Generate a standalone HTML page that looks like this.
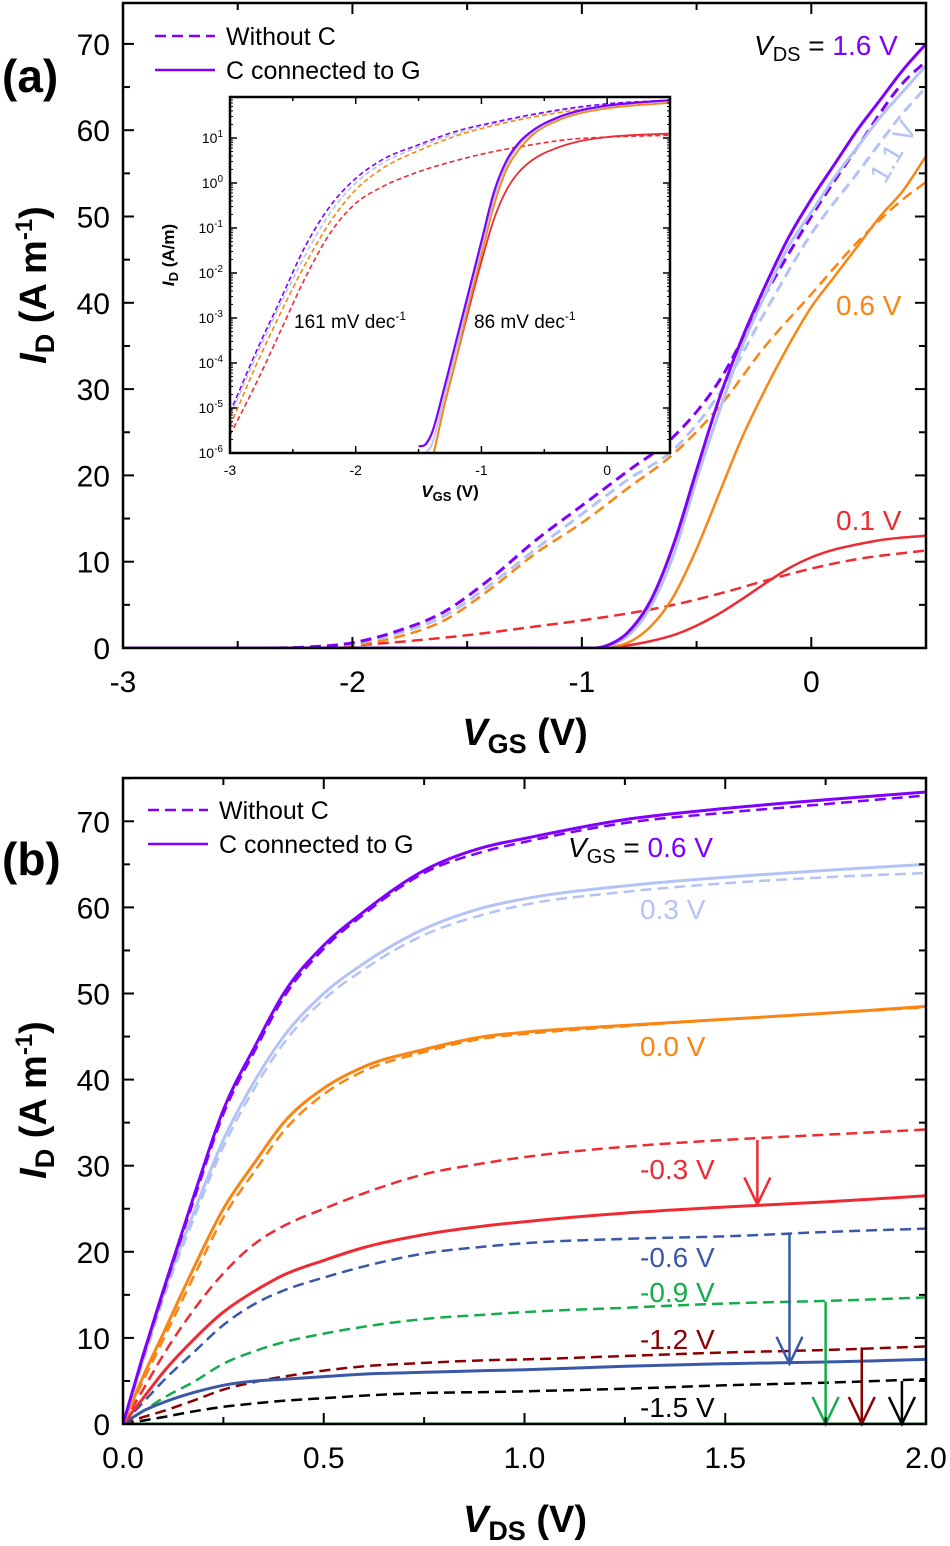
<!DOCTYPE html>
<html><head><meta charset="utf-8"><style>
html,body{margin:0;padding:0;background:#fff;}
svg{display:block;font-family:"Liberation Sans",Arial,sans-serif;}
</style></head><body>
<svg id="fig" width="950" height="1546" viewBox="0 0 950 1546" xmlns="http://www.w3.org/2000/svg">
<g id="pa"></g>
<g id="pi"></g>
<g id="pb"></g>
</svg>
<script>
// ---------- Panel (a) data: ID vs VGS (linear) ----------
const aX = [-3,-2.4,-2.2,-2.0,-1.8,-1.6,-1.4,-1.2,-1.0,-0.8,-0.6,-0.4,-0.2,0,0.2,0.4,0.5];
const aDash16 = [0,0,0.1,0.6,2,4.2,8,12.5,16.5,20.5,24.5,31,41,50,58,65.5,68];
const aDash11 = [0,0,0.1,0.5,1.7,3.7,7.3,11.5,15.5,19.5,23,29.5,39,48,55,62,65];
const aDash06 = [0,0,0.05,0.3,1.3,3.2,6.8,11,14.5,18.5,22.5,28,35,41,47,52,54];
const aDash01 = [0,0,0,0.3,0.7,1.2,1.8,2.5,3.2,4,5,6.3,7.8,9.2,10.3,11,11.3];
const aSX = [-3,-1.0,-0.9,-0.8,-0.7,-0.6,-0.5,-0.4,-0.3,-0.2,-0.1,0,0.1,0.2,0.3,0.4,0.5];
const aSol16 = [0,0,0.2,1.8,5.5,12,20.6,29,36,42,47.5,52,56,60,63.5,67,70];
const aSol11 = [0,0,0.15,1.4,4.8,10.8,19.5,27.5,35,41,46.5,50.5,54.5,58,61.5,64.5,67.5];
const aSol06 = [0,0,0.05,0.6,2.5,6,11.5,18,24.5,30,35,39.5,43,46.5,50,53,57];
const aSol01 = [0,0,0,0.3,0.8,1.5,2.6,4,5.7,7.5,9.2,10.5,11.4,12,12.5,12.8,13];
const aXTicks = [-3,-2,-1,0];
const aYTicks = [0,10,20,30,40,50,60,70];

// ---------- Inset data: log10(ID) vs VGS ----------
const iX = [-3,-2.8,-2.6,-2.4,-2.2,-2.0,-1.8,-1.5,-1.2,-0.9,-0.6,-0.3,0,0.5];
const iDash16 = [-5.1,-3.8,-2.6,-1.4,-0.5,0.1,0.5,0.85,1.15,1.35,1.52,1.66,1.76,1.84];
const iDash11 = [-5.2,-3.9,-2.7,-1.6,-0.65,0,0.42,0.8,1.1,1.32,1.5,1.64,1.74,1.82];
const iDash06 = [-5.4,-4.1,-2.9,-1.8,-0.85,-0.15,0.3,0.72,1.05,1.28,1.46,1.6,1.7,1.78];
const iDash01 = [-5.6,-4.5,-3.3,-2.1,-1.1,-0.45,-0.1,0.25,0.5,0.7,0.85,0.97,1.02,1.06];
const iSX = [-1.5,-1.45,-1.4,-1.3,-1.2,-1.1,-1.0,-0.9,-0.8,-0.7,-0.6,-0.4,-0.2,0,0.5];
const iSol16 = [-5.85,-5.82,-5.6,-4.6,-3.5,-2.4,-1.3,-0.2,0.5,0.9,1.15,1.45,1.62,1.72,1.84];
const iSol11 = [-6.1,-6.0,-5.85,-4.8,-3.7,-2.55,-1.45,-0.35,0.4,0.85,1.1,1.42,1.6,1.7,1.83];
const iSol06 = [-6.6,-6.5,-6.2,-5.0,-3.9,-2.7,-1.6,-0.5,0.3,0.75,1.05,1.38,1.56,1.66,1.78];
const iSol01 = [-6.6,-6.5,-6.2,-5.0,-3.9,-2.8,-1.75,-0.8,-0.15,0.25,0.5,0.78,0.94,1.02,1.1];
const iXTicks = [-3,-2,-1,0];
const iYTicks = [-6,-5,-4,-3,-2,-1,0,1];

// ---------- Panel (b) data: ID vs VDS ----------
const bX = [0,0.05,0.1,0.18,0.25,0.33,0.4,0.5,0.6,0.75,0.9,1.0,1.25,1.5,1.75,2.0];
const bSol06 = [0,8,15.5,27,36.5,44,50,55.6,59.5,64.3,67,68,70.2,71.5,72.5,73.4];
const bDash06 = [0,7.8,15.2,26.5,36,43.5,49.5,55.2,59.2,64,66.5,67.6,69.8,71,72,73];
const bSol03 = [0,7.5,15,25,33,40,45,50,53.5,57.5,60,61,62.5,63.5,64.3,65];
const bDash03 = [0,7.2,14.5,24.3,32.2,39.2,44.2,49.3,52.8,56.8,59.2,60.3,61.8,62.8,63.5,64];
const bSol00 = [0,5.5,10.5,18.5,25,30.5,35,39,41.5,43.5,45,45.5,46.3,47,47.7,48.5];
const bDash00 = [0,5,9.8,17.5,24,29.5,34,38.3,41,43.2,44.8,45.3,46.2,47,47.7,48.4];
const bDashM03 = [0,4,8,13.5,17.5,21,23,25,26.8,29,30.3,31,32.2,33,33.6,34.2];
const bSolM03 = [0,3,6,10,13,15.5,17.3,19,20.5,22,23,23.5,24.5,25.2,25.8,26.5];
const bDashM06 = [0,2.5,5,8.5,11.5,14,15.5,17,18.3,19.8,20.6,21,21.5,21.8,22.3,22.7];
const bSolM06 = [0,1.5,2.5,3.7,4.5,5,5.2,5.5,5.8,6,6.2,6.3,6.7,7,7.2,7.5];
const bDashM09 = [0,1.5,3,5,7,8.5,9.5,10.5,11.3,12.2,12.7,13,13.5,14,14.3,14.7];
const bSolM09 = [0,0,0,0,0,0,0,0,0,0,0,0,0,0,0,0];
const bDashM12 = [0,0.8,1.5,2.8,4,4.9,5.5,6.2,6.7,7.1,7.4,7.5,7.9,8.3,8.6,9];
const bDashM15 = [0,0.4,0.8,1.5,2,2.4,2.7,3,3.3,3.6,3.7,3.8,4.1,4.5,4.8,5.2];
const bArrowX = [1.58,1.66,1.75,1.84,1.94];
const bArrowFrom = [33,22,14.2,8.9,5];
const bArrowTo = [25.5,7,0,0,0];
const bXTicks = [0,0.5,1.0,1.5,2.0];
const bYTicks = [0,10,20,30,40,50,60,70];

const C = {p:'#8000ff', l:'#b4c3f5', o:'#fa8512', r:'#ee2b33', b:'#3a58a8', g:'#13ad4b', d:'#8b0000', k:'#000'};
const NS='http://www.w3.org/2000/svg';
function el(parent,tag,attrs){const e=document.createElementNS(NS,tag);for(const k in attrs)e.setAttribute(k,attrs[k]);parent.appendChild(e);return e;}
function smooth(pts){
  const n=pts.length, m=[];
  const d=[];
  for(let i=0;i<n-1;i++){const h=pts[i+1][0]-pts[i][0]; d.push(h>0?(pts[i+1][1]-pts[i][1])/h:0);}
  for(let i=0;i<n;i++){
    if(i===0) m.push(d[0]); else if(i===n-1) m.push(d[n-2]);
    else { const h0=pts[i][0]-pts[i-1][0], h1=pts[i+1][0]-pts[i][0];
      if(d[i-1]*d[i]<=0) m.push(0); else m.push((d[i-1]*h1+d[i]*h0)/(h0+h1)); }
  }
  let s='M'+pts[0][0].toFixed(1)+','+pts[0][1].toFixed(1);
  for(let i=0;i<n-1;i++){
    const h=(pts[i+1][0]-pts[i][0])/3;
    s+=' C'+(pts[i][0]+h).toFixed(1)+','+(pts[i][1]+m[i]*h).toFixed(1)+' '+(pts[i+1][0]-h).toFixed(1)+','+(pts[i+1][1]-m[i+1]*h).toFixed(1)+' '+pts[i+1][0].toFixed(1)+','+pts[i+1][1].toFixed(1);
  }
  return s;
}
function curve(g,xs,ys,sx,sy,color,dash,w,name){
  const pts=xs.map((x,i)=>[sx(x),sy(ys[i])]);
  const p=el(g,'path',{d:smooth(pts),fill:'none',stroke:color,'stroke-width':w,'stroke-dasharray':dash||'none'});
  
  
}
function txt(g,x,y,s,opts,name){
  const t=el(g,'text',Object.assign({x:x,y:y},opts||{}));
  t.innerHTML=s;
  
  
  return t;
}
function frame(g,L,T,R,B,name){
  const r=el(g,'rect',{x:L,y:T,width:R-L,height:B-T,fill:'none',stroke:'#000','stroke-width':2.5});
  
  
}

// ===== Panel (a) =====
(function(){
  const g=document.getElementById('pa');
  const L=123,R=926,T=3,B=648;
  const sx=v=>L+(v+3)*(R-L)/3.5, sy=v=>B-v*8.63;
  const cg=el(g,'g',{'clip-path':'url(#ca)'});
  const cp=el(el(g,'defs',{}),'clipPath',{id:'ca'});el(cp,'rect',{x:L,y:T,width:R-L,height:B-T});
  const D='11,6';
  curve(cg,aX,aDash01,sx,sy,C.r,D,2.5,'curve-a-dash-0.1V');
  curve(cg,aX,aDash06,sx,sy,C.o,D,2.5,'curve-a-dash-0.6V');
  curve(cg,aX,aDash11,sx,sy,C.l,D,3,'curve-a-dash-1.1V');
  curve(cg,aX,aDash16,sx,sy,C.p,D,3,'curve-a-dash-1.6V');
  curve(cg,aSX,aSol01,sx,sy,C.r,null,2.5,'curve-a-solid-0.1V');
  curve(cg,aSX,aSol06,sx,sy,C.o,null,2.5,'curve-a-solid-0.6V');
  curve(cg,aSX,aSol11,sx,sy,C.l,null,3,'curve-a-solid-1.1V');
  curve(cg,aSX,aSol16,sx,sy,C.p,null,3,'curve-a-solid-1.6V');
  frame(g,L,T,R,B,'plot-a-frame');
  for(let v=-3;v<=0.5;v+=0.5){const x=sx(v),len=(Math.abs(v%1)<1e-6)?11:7;
    el(g,'line',{x1:x,y1:B,x2:x,y2:B-len,stroke:'#000','stroke-width':2});
    el(g,'line',{x1:x,y1:T,x2:x,y2:T+len,stroke:'#000','stroke-width':2});}
  for(let v=0;v<=74;v+=5){const y=sy(v),len=(v%10===0)?11:7;
    el(g,'line',{x1:L,y1:y,x2:L+len,y2:y,stroke:'#000','stroke-width':2});
    el(g,'line',{x1:R,y1:y,x2:R-len,y2:y,stroke:'#000','stroke-width':2});}
  aXTicks.forEach(v=>txt(g,sx(v),692,String(v),{'font-size':30,'text-anchor':'middle'},'x-tick-a'));
  aYTicks.forEach(v=>txt(g,110,sy(v)+11,String(v),{'font-size':30,'text-anchor':'end'},'y-tick-a'));
  txt(g,525,745,'<tspan font-style="italic">V</tspan><tspan font-size="27" dy="8">GS</tspan><tspan dy="-8"> (V)</tspan>',{'font-size':38,'font-weight':'bold','text-anchor':'middle'},'x-axis-title-a');
  txt(g,0,0,'<tspan font-style="italic">I</tspan><tspan font-size="27" dy="8">D</tspan><tspan dy="-8"> (A m</tspan><tspan font-size="24" dy="-14">-1</tspan><tspan dy="14">)</tspan>',{'font-size':38,'font-weight':'bold','text-anchor':'middle',transform:'translate(46,285) rotate(-90)'},'y-axis-title-a');
  txt(g,2,92,'(a)',{'font-size':46,'font-weight':'bold'},'panel-label-a');
  el(g,'line',{x1:155,y1:36,x2:215,y2:36,stroke:C.p,'stroke-width':2.5,'stroke-dasharray':'11,6'});
  txt(g,226,45,'Without C',{'font-size':25},'legend-without-c');
  el(g,'line',{x1:155,y1:70,x2:215,y2:70,stroke:C.p,'stroke-width':2.5});
  txt(g,226,79,'C connected to G',{'font-size':25},'legend-c-connected');
  txt(g,754,55,'<tspan font-style="italic">V</tspan><tspan font-size="20" dy="6">DS</tspan><tspan dy="-6"> = </tspan><tspan fill="'+C.p+'">1.6 V</tspan>',{'font-size':28},'label-vds-1.6');
  txt(g,0,0,'1.1 V',{'font-size':28,fill:C.l,transform:'translate(885,185) rotate(-60)'},'label-vds-1.1');
  txt(g,836,315,'0.6 V',{'font-size':28,fill:C.o},'label-vds-0.6');
  txt(g,836,530,'0.1 V',{'font-size':28,fill:C.r},'label-vds-0.1');
})();

// ===== Inset =====
(function(){
  const g=document.getElementById('pi');
  const L=230,R=670,T=97,B=453;
  const sx=v=>L+(v+3)*(R-L)/3.5, sy=v=>B-(v+6)*45;
  el(g,'rect',{x:L,y:T,width:R-L,height:B-T,fill:'#fff'});
  const cp=el(el(g,'defs',{}),'clipPath',{id:'ci'});el(cp,'rect',{x:L,y:T,width:R-L,height:B-T});
  const cg=el(g,'g',{'clip-path':'url(#ci)'});
  const D='5,3';
  curve(cg,iX,iDash01,sx,sy,C.r,D,1.6,'inset-dash-0.1V');
  curve(cg,iX,iDash06,sx,sy,C.o,D,1.6,'inset-dash-0.6V');
  curve(cg,iX,iDash11,sx,sy,C.l,D,1.6,'inset-dash-1.1V');
  curve(cg,iX,iDash16,sx,sy,C.p,D,1.6,'inset-dash-1.6V');
  curve(cg,iSX,iSol01,sx,sy,C.r,null,1.8,'inset-solid-0.1V');
  curve(cg,iSX,iSol06,sx,sy,C.o,null,1.8,'inset-solid-0.6V');
  curve(cg,iSX,iSol11,sx,sy,C.l,null,1.8,'inset-solid-1.1V');
  curve(cg,iSX,iSol16,sx,sy,C.p,null,2.2,'inset-solid-1.6V');
  frame(g,L,T,R,B,'inset-frame');
  for(let v=-3;v<=0.5;v+=0.5){const x=sx(v),len=(Math.abs(v%1)<1e-6)?7:4;
    el(g,'line',{x1:x,y1:B,x2:x,y2:B-len,stroke:'#000','stroke-width':1.5});
    el(g,'line',{x1:x,y1:T,x2:x,y2:T+len,stroke:'#000','stroke-width':1.5});}
  for(let d=-6;d<=1;d++){const y=sy(d);
    [L,R].forEach(xx=>{const s=xx===L?1:-1;
      el(g,'line',{x1:xx,y1:y,x2:xx+s*7,y2:y,stroke:'#000','stroke-width':1.5});
      for(let m=2;m<=9;m++){const ym=sy(d+Math.log10(m)); if(ym<T) break;
        el(g,'line',{x1:xx,y1:ym,x2:xx+s*3,y2:ym,stroke:'#000','stroke-width':1});}});}
  iXTicks.forEach(v=>txt(g,sx(v),475,String(v),{'font-size':14,'text-anchor':'middle'},'inset-x-tick'));
  iYTicks.forEach(v=>txt(g,223,sy(v)+5,'10<tspan font-size="10" dy="-6">'+v+'</tspan>',{'font-size':14,'text-anchor':'end'},'inset-y-tick'));
  txt(g,450,497,'<tspan font-style="italic">V</tspan><tspan font-size="13" dy="4">GS</tspan><tspan dy="-4"> (V)</tspan>',{'font-size':17,'font-weight':'bold','text-anchor':'middle'},'inset-x-title');
  txt(g,0,0,'<tspan font-style="italic">I</tspan><tspan font-size="13" dy="4">D</tspan><tspan dy="-4"> (A/m)</tspan>',{'font-size':17,'font-weight':'bold','text-anchor':'middle',transform:'translate(174,255) rotate(-90)'},'inset-y-title');
  txt(g,294,328,'161 mV dec<tspan font-size="12" dy="-8">-1</tspan>',{'font-size':19},'label-161mv');
  txt(g,474,328,'86 mV dec<tspan font-size="12" dy="-8">-1</tspan>',{'font-size':19},'label-86mv');
})();

// ===== Panel (b) =====
(function(){
  const g=document.getElementById('pb');
  const L=123,R=926,T=778,B=1424;
  const sx=v=>L+v*(R-L)/2, sy=v=>B-v*8.61;
  const cp=el(el(g,'defs',{}),'clipPath',{id:'cb'});el(cp,'rect',{x:L,y:T,width:R-L,height:B-T});
  const cg=el(g,'g',{'clip-path':'url(#cb)'});
  const D='11,6';
  curve(cg,bX,bDashM15,sx,sy,C.k,D,2.5,'curve-b-dash-m1.5V');
  curve(cg,bX,bDashM12,sx,sy,C.d,D,2.5,'curve-b-dash-m1.2V');
  curve(cg,bX,bDashM09,sx,sy,C.g,D,2.5,'curve-b-dash-m0.9V');
  curve(cg,bX,bSolM09,sx,sy,C.g,null,3,'curve-b-solid-low');
  curve(cg,bX,bDashM06,sx,sy,C.b,D,2.5,'curve-b-dash-m0.6V');
  curve(cg,bX,bSolM06,sx,sy,C.b,null,3,'curve-b-solid-m0.6V');
  curve(cg,bX,bDashM03,sx,sy,C.r,D,2.5,'curve-b-dash-m0.3V');
  curve(cg,bX,bSolM03,sx,sy,C.r,null,3,'curve-b-solid-m0.3V');
  curve(cg,bX,bDash00,sx,sy,C.o,D,2.5,'curve-b-dash-0.0V');
  curve(cg,bX,bSol00,sx,sy,C.o,null,3,'curve-b-solid-0.0V');
  curve(cg,bX,bDash03,sx,sy,C.l,D,2.5,'curve-b-dash-0.3V');
  curve(cg,bX,bSol03,sx,sy,C.l,null,3,'curve-b-solid-0.3V');
  curve(cg,bX,bDash06,sx,sy,C.p,D,2.5,'curve-b-dash-0.6V');
  curve(cg,bX,bSol06,sx,sy,C.p,null,3,'curve-b-solid-0.6V');
  const ac=[C.r,C.b,C.g,C.d,C.k];
  bArrowX.forEach((v,i)=>{const x=sx(v),y1=sy(bArrowFrom[i]),y2=sy(bArrowTo[i]);
    const a=el(g,'path',{d:'M'+x+','+y1+' L'+x+','+y2+' M'+(x-13)+','+(y2-27)+' L'+x+','+y2+' L'+(x+13)+','+(y2-27),fill:'none',stroke:ac[i],'stroke-width':2.5});
    
    });
  frame(g,L,T,R,B,'plot-b-frame');
  for(let v=0;v<=2;v+=0.25){const x=sx(v),len=(Math.abs((v*2)%1)<1e-6)?11:7;
    el(g,'line',{x1:x,y1:B,x2:x,y2:B-len,stroke:'#000','stroke-width':2});
    el(g,'line',{x1:x,y1:T,x2:x,y2:T+len,stroke:'#000','stroke-width':2});}
  for(let v=0;v<=75;v+=5){const y=sy(v),len=(v%10===0)?11:7;
    el(g,'line',{x1:L,y1:y,x2:L+len,y2:y,stroke:'#000','stroke-width':2});
    el(g,'line',{x1:R,y1:y,x2:R-len,y2:y,stroke:'#000','stroke-width':2});}
  bXTicks.forEach(v=>txt(g,sx(v),1468,v.toFixed(1),{'font-size':30,'text-anchor':'middle'},'x-tick-b'));
  bYTicks.forEach(v=>txt(g,110,sy(v)+11,String(v),{'font-size':30,'text-anchor':'end'},'y-tick-b'));
  txt(g,525,1532,'<tspan font-style="italic">V</tspan><tspan font-size="27" dy="8">DS</tspan><tspan dy="-8"> (V)</tspan>',{'font-size':38,'font-weight':'bold','text-anchor':'middle'},'x-axis-title-b');
  txt(g,0,0,'<tspan font-style="italic">I</tspan><tspan font-size="27" dy="8">D</tspan><tspan dy="-8"> (A m</tspan><tspan font-size="24" dy="-14">-1</tspan><tspan dy="14">)</tspan>',{'font-size':38,'font-weight':'bold','text-anchor':'middle',transform:'translate(46,1100) rotate(-90)'},'y-axis-title-b');
  txt(g,2,875,'(b)',{'font-size':46,'font-weight':'bold'},'panel-label-b');
  el(g,'line',{x1:148,y1:810,x2:208,y2:810,stroke:C.p,'stroke-width':2.5,'stroke-dasharray':'11,6'});
  txt(g,219,819,'Without C',{'font-size':25},'legend-b-without-c');
  el(g,'line',{x1:148,y1:844,x2:208,y2:844,stroke:C.p,'stroke-width':2.5});
  txt(g,219,853,'C connected to G',{'font-size':25},'legend-b-c-connected');
  txt(g,568,857,'<tspan font-style="italic">V</tspan><tspan font-size="20" dy="6">GS</tspan><tspan dy="-6"> = </tspan><tspan fill="'+C.p+'">0.6 V</tspan>',{'font-size':28},'label-vgs-0.6');
  const lab=[['0.3 V',C.l,919],['0.0 V',C.o,1056],['-0.3 V',C.r,1179],['-0.6 V',C.b,1267],['-0.9 V',C.g,1302],['-1.2 V',C.d,1349],['-1.5 V',C.k,1417]];
  lab.forEach(l=>txt(g,640,l[2],l[0],{'font-size':28,fill:l[1]},'label-vgs'));
})();
</script>
</body></html>
